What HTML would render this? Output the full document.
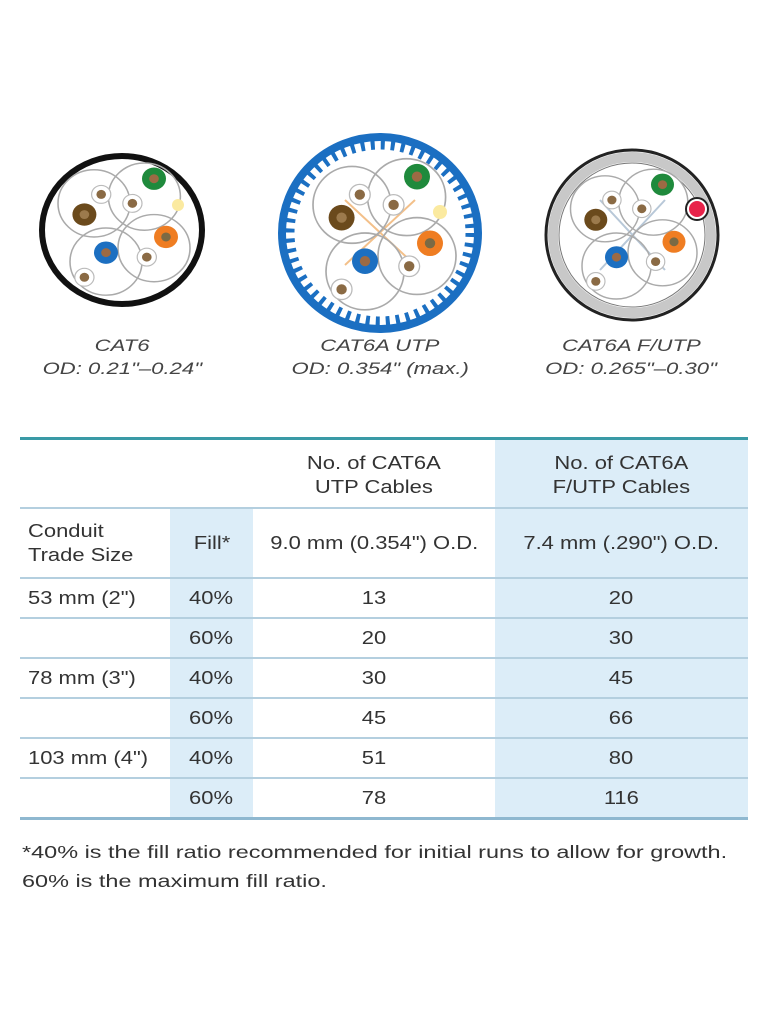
<!DOCTYPE html>
<html><head><meta charset="utf-8"><style>
body{margin:0;background:#fff;width:768px;height:1024px;position:relative;overflow:hidden;font-family:"Liberation Sans",sans-serif;color:#333}
.lbl{position:absolute;font-style:italic;font-size:17px;color:#444;text-align:center;width:220px;line-height:23px}
.lbl span,.c span{display:inline-block;transform:scaleX(1.3)}
.c span{transform:scaleX(1.22)}
.l span{transform-origin:left center}
.c{position:absolute;font-size:18px;color:#333;display:flex;align-items:center;justify-content:center;text-align:center;line-height:24px}
.l{justify-content:flex-start;text-align:left;padding-left:8px}
.bg{position:absolute;background:#dcedf8}
.hl{position:absolute;left:20px;width:728px;height:2px;background:#b4cfdf}
.fn{position:absolute;left:22px;font-size:17.5px;color:#333;line-height:29px;transform:scaleX(1.34);transform-origin:left top;white-space:nowrap}
</style></head><body>
<svg width="768" height="400" style="position:absolute;left:0;top:0">
<defs>
<g id="pairs">
<circle cx="-20" cy="-22" r="30" fill="none" stroke="#aaa" stroke-width="1.3"/>
<circle cx="22" cy="-28" r="30" fill="none" stroke="#aaa" stroke-width="1.3"/>
<circle cx="30" cy="18" r="30" fill="none" stroke="#aaa" stroke-width="1.3"/>
<circle cx="-10" cy="30" r="30" fill="none" stroke="#aaa" stroke-width="1.3"/>
<circle cx="-28" cy="-12" r="10" fill="#6b4a1c"/><circle cx="-28" cy="-12" r="4" fill="#9c7a4c"/>
<circle cx="-14" cy="-30" r="8" fill="#fff" stroke="#bbb"/><circle cx="-14" cy="-30" r="4" fill="#8a6a44"/>
<circle cx="30" cy="-44" r="10" fill="#1f8a3c"/><circle cx="30" cy="-44" r="4" fill="#9c6a44"/>
<circle cx="12" cy="-22" r="8" fill="#fff" stroke="#bbb"/><circle cx="12" cy="-22" r="4" fill="#8a6a44"/>
<circle cx="40" cy="8" r="10" fill="#ef7d22"/><circle cx="40" cy="8" r="4" fill="#7a6a44"/>
<circle cx="24" cy="26" r="8" fill="#fff" stroke="#bbb"/><circle cx="24" cy="26" r="4" fill="#8a6a44"/>
<circle cx="-10" cy="22" r="10" fill="#1c6fc1"/><circle cx="-10" cy="22" r="4" fill="#9c6a44"/>
<circle cx="-28" cy="44" r="8" fill="#fff" stroke="#bbb"/><circle cx="-28" cy="44" r="4" fill="#8a6a44"/>
</g></defs>
<g>
<ellipse cx="122" cy="230" rx="80" ry="74" fill="#fff" stroke="#111" stroke-width="6"/>
<g transform="translate(118,228) scale(1.2,1.12)"><use href="#pairs"/></g>
<circle cx="178" cy="205" r="6" fill="#fbeaa0"/>
</g>
<g>
<ellipse cx="380" cy="233" rx="98" ry="96" fill="#fff" stroke="#1b6fc2" stroke-width="8"/>
<ellipse cx="380" cy="233" rx="90" ry="88" fill="none" stroke="#1b6fc2" stroke-width="9" stroke-dasharray="4 6"/>
<path d="M345 200 L415 265 M345 265 L415 200" stroke="#f3c08a" stroke-width="2"/>
<g transform="translate(378,233) scale(1.3,1.28)"><use href="#pairs"/></g>
<circle cx="440" cy="212" r="7" fill="#fbeaa0"/>
</g>
<g>
<ellipse cx="632" cy="235" rx="86" ry="85" fill="#fff" stroke="#222" stroke-width="3"/>
<ellipse cx="632" cy="235" rx="79" ry="78" fill="none" stroke="#c8c8c8" stroke-width="10"/>
<ellipse cx="632" cy="235" rx="73" ry="72" fill="none" stroke="#777" stroke-width="1"/>
<path d="M600 200 L665 270 M600 270 L665 200" stroke="#b8c8d8" stroke-width="2"/>
<g transform="translate(628,233) scale(1.15,1.1)"><use href="#pairs"/></g>
<circle cx="697" cy="209" r="11" fill="#fff" stroke="#222" stroke-width="2"/>
<circle cx="697" cy="209" r="8" fill="#e8234a"/>
</g>
</svg>
<div class="lbl" style="left:12px;top:334px"><span>CAT6</span><br><span>OD: 0.21"–0.24"</span></div>
<div class="lbl" style="left:270px;top:334px"><span>CAT6A UTP</span><br><span>OD: 0.354" (max.)</span></div>
<div class="lbl" style="left:521px;top:334px"><span>CAT6A F/UTP</span><br><span>OD: 0.265"–0.30"</span></div>

<div id="tbl">
<div class="bg" style="left:495px;top:440px;width:253px;height:380px"></div>
<div class="bg" style="left:170px;top:508px;width:83px;height:312px"></div>
<div style="position:absolute;left:20px;top:437px;width:728px;height:3px;background:#3a9aa6"></div>
<div class="c" style="left:253px;top:441px;width:242px;height:67px"><span>No. of CAT6A<br>UTP Cables</span></div>
<div class="c" style="left:495px;top:441px;width:253px;height:67px"><span>No. of CAT6A<br>F/UTP Cables</span></div>
<div class="c l" style="left:20px;top:508px;width:142px;height:70px"><span>Conduit<br>Trade Size</span></div>
<div class="c" style="left:170px;top:508px;width:83px;height:70px"><span>Fill*</span></div>
<div class="c" style="left:253px;top:508px;width:242px;height:70px"><span>9.0 mm (0.354") O.D.</span></div>
<div class="c" style="left:495px;top:508px;width:253px;height:70px"><span>7.4 mm (.290") O.D.</span></div>
<div class="hl" style="top:507px"></div>
<div class="hl" style="top:577px"></div>
</div>
<div class="fn" style="top:838px">*40% is the fill ratio recommended for initial runs to allow for growth.<br>60% is the maximum fill ratio.</div>
<script>
const sizes=["53 mm (2\")","","78 mm (3\")","","103 mm (4\")",""];
const fills=["40%","60%","40%","60%","40%","60%"];
const utp=[13,20,30,45,51,78];
const futp=[20,30,45,66,80,116];
const t=document.getElementById('tbl');
function cell(cls,left,top,w,txt,name){const d=document.createElement('div');d.className=cls;d.style.cssText=`left:${left}px;top:${top}px;width:${w}px;height:40px`;
const s=document.createElement('span');s.textContent=txt;d.appendChild(s);


t.appendChild(d);}
for(let i=0;i<utp.length;i++){const y=578+i*40;
cell('c l',20,y,142,sizes[i],'conduit-size-cell');
cell('c',170,y,83,fills[i],'fill-cell');
cell('c',253,y,242,String(utp[i]),'utp-count-cell');
cell('c',495,y,253,String(futp[i]),'futp-count-cell');
const r=document.createElement('div');r.className='hl';r.style.top=(y+39)+'px';


if(i==utp.length-1){r.style.height='3px';r.style.background='#8fb8d0';}
t.appendChild(r);}
</script>
</body></html>
